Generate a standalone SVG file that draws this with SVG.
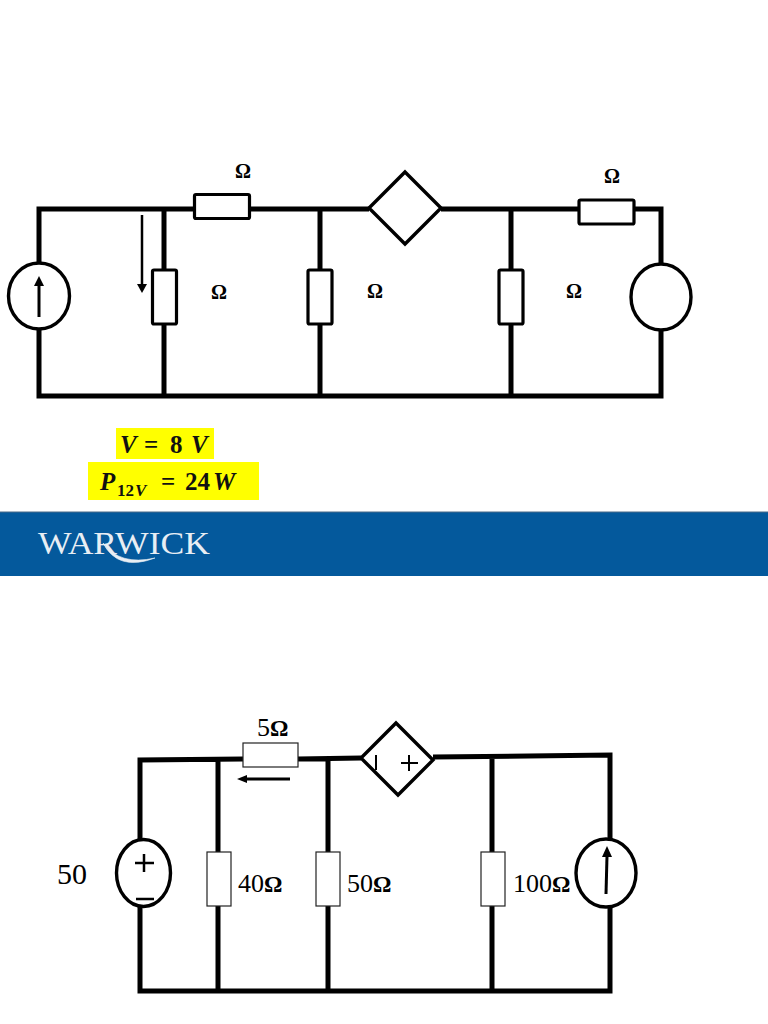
<svg xmlns="http://www.w3.org/2000/svg" width="768" height="1024" viewBox="0 0 768 1024">
<style>
.w1{fill:none;stroke:#000;stroke-width:5}
.w2{fill:none;stroke:#000;stroke-width:5}
.r1{fill:#fff;stroke:#000;stroke-width:3.2}
.r2{fill:#fff;stroke:#222;stroke-width:1.200}
.s1{fill:#fff;stroke:#000;stroke-width:3.4}
.s2{fill:#fff;stroke:#000;stroke-width:3.4}
.om{font-family:"Liberation Serif",serif;font-weight:bold;font-size:20px;fill:#000;text-anchor:middle}
.lb{font-family:"Liberation Serif",serif;font-size:26px;fill:#000}
.eq{font-family:"Liberation Serif",serif;font-weight:bold;font-style:italic;font-size:25px;fill:#111}
.eqn{font-family:"Liberation Serif",serif;font-weight:bold;font-size:25px;fill:#111}
.sub{font-family:"Liberation Serif",serif;font-weight:bold;font-size:17px;fill:#111}
</style>
<g id="connectors-top">
<path class="w1" d="M39,265V209H369M441,209H661V265M39,330V396H661V330M164,209V270M164,324V396M320,209V270M320,324V396M511,209V270M511,324V396"/>
</g>
<g id="r-top-1"><rect class="r1" x="194.500" y="194.500" width="55" height="24" rx="1.500"/><text class="om" x="243" y="178">Ω</text></g>
<g id="r-top-2"><rect class="r1" x="579" y="200" width="55" height="24" rx="1.500"/><text class="om" x="612" y="183">Ω</text></g>
<g id="r-top-3"><rect class="r1" x="152.500" y="270" width="24" height="54" rx="1.500"/><text class="om" x="219" y="299">Ω</text></g>
<g id="r-top-4"><rect class="r1" x="308" y="270" width="24" height="54" rx="1.500"/><text class="om" x="375" y="298">Ω</text></g>
<g id="r-top-5"><rect class="r1" x="499" y="270" width="24" height="54" rx="1.500"/><text class="om" x="574" y="298">Ω</text></g>
<g id="src-top-left"><ellipse class="s1" cx="39" cy="296" rx="30.500" ry="33"/><path d="M39,317V286" stroke="#000" stroke-width="3" fill="none"/><path d="M39,276L34,286H44z" fill="#000"/></g>
<g id="src-top-right"><ellipse class="s1" cx="661" cy="297" rx="30" ry="33"/></g>
<g id="dep-top"><path class="s1" d="M405,172L441,208L405,244L369,208z"/></g>
<g id="arrow-top"><path d="M142,215V284" stroke="#000" stroke-width="2.500" fill="none"/><path d="M137,284H147L142,293z" fill="#000"/></g>
<g id="eq-1"><rect x="116" y="428" width="98" height="31" fill="#ffff00"/><text class="eq" x="120" y="453">V</text><text class="eqn" x="144" y="453">=</text><text class="eqn" x="170" y="453">8</text><text class="eq" x="191" y="453">V</text></g>
<g id="eq-2"><rect x="88" y="462" width="171" height="38" fill="#ffff00"/><text class="eq" x="100" y="490">P</text><text class="sub" x="117" y="496">12</text><text class="sub" x="135" y="496" font-style="italic">V</text><text class="eqn" x="161" y="490">=</text><text class="eqn" x="185" y="490">24</text><text class="eq" x="213" y="490">W</text></g>
<g id="banner"><rect x="0" y="512" width="768" height="64" fill="#04599c"/><rect x="0" y="511.500" width="768" height="1" fill="#4a6a88"/>
<text x="38" y="554" font-family="Liberation Serif,serif" font-size="32" fill="#e8eef4" textLength="172" lengthAdjust="spacingAndGlyphs">WARWICK</text>
<path d="M103,543Q118,572 155,558Q120,566 103,543z" fill="#e8eef4" stroke="#e8eef4" stroke-width="0.600"/></g>
<g id="connectors-bottom">
<path class="w2" d="M140,839V760L243,759M298,759L361,758M433,757L610,755V840M610,906V991H140V906M218,760V852M218,906V991M328,759V852M328,906V991M492,757V852M492,906V991"/>
</g>
<g id="r-bot-1"><rect class="r2" x="243" y="743" width="55" height="24"/><text class="lb" x="257" y="736">5<tspan font-weight="bold" font-size="23">Ω</tspan></text></g>
<g id="r-bot-2"><rect class="r2" x="207" y="852" width="24" height="54"/><text class="lb" x="238" y="892">40<tspan font-weight="bold" font-size="23">Ω</tspan></text></g>
<g id="r-bot-3"><rect class="r2" x="316" y="852" width="24" height="54"/><text class="lb" x="347" y="892">50<tspan font-weight="bold" font-size="23">Ω</tspan></text></g>
<g id="r-bot-4"><rect class="r2" x="481" y="852" width="24" height="54"/><text class="lb" x="513" y="892">100<tspan font-weight="bold" font-size="23">Ω</tspan></text></g>
<g id="src-bot-left"><ellipse class="s2" cx="143.500" cy="873" rx="27" ry="33.500"/><path d="M144,854V872M135,863H154M136,899H154" stroke="#000" stroke-width="2.500" fill="none"/><text class="lb" x="57" y="884" style="font-size:30px">50</text></g>
<g id="src-bot-right"><ellipse class="s2" cx="606" cy="873" rx="30" ry="34"/><path d="M606,894L607,856" stroke="#000" stroke-width="3" fill="none"/><path d="M607,846L602,857H612z" fill="#000"/></g>
<g id="dep-bot"><path class="s2" d="M396,723L433,760L398,795L361,758z"/><path d="M376,755V770" stroke="#000" stroke-width="2" fill="none"/><path d="M409,755V771M401,763H418" stroke="#000" stroke-width="2" fill="none"/></g>
<g id="arrow-bot"><path d="M290,779H246" stroke="#000" stroke-width="3" fill="none"/><path d="M237,779L247,775V783z" fill="#000"/></g>
</svg>
